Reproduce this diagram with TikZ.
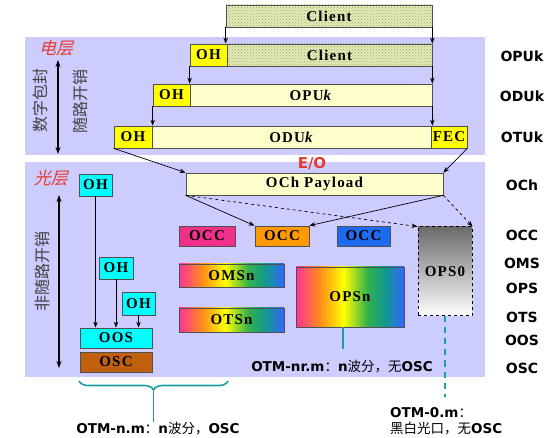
\documentclass[tikz,border=0pt]{standalone}
\usepackage{fontspec}
\setmainfont{Liberation Serif}
\setsansfont{DejaVu Sans}
\newfontfamily\boxfont[LetterSpace=8]{Liberation Serif}
\newfontfamily\cjk{Noto Sans CJK SC}
\newfontfamily\cjksl[FakeSlant=0.25]{Noto Sans CJK SC}
\newcommand{\zhtext}[1]{{\cjk\mdseries #1}}
\usepackage{tikz}
\usetikzlibrary{arrows.meta,patterns,decorations.pathreplacing,positioning}
\definecolor{panel}{HTML}{CCCCFF}
\definecolor{boxline}{HTML}{505050}
\definecolor{ohyellow}{HTML}{FFFF00}
\definecolor{payload}{HTML}{FFFFCC}
\definecolor{clientbg}{HTML}{E4EBB8}
\definecolor{clientdot}{HTML}{9AA860}
\definecolor{ohcyan}{HTML}{00FFFF}
\definecolor{oscbrown}{HTML}{C0600F}
\definecolor{occpink}{HTML}{F0308A}
\definecolor{occorange}{HTML}{FF9900}
\definecolor{occblue}{HTML}{1E6BF0}
\definecolor{layred}{HTML}{E83A2E}
\definecolor{braceteal}{HTML}{1A9E9E}
\definecolor{rbpink}{HTML}{FF3399}
\definecolor{rborange}{HTML}{FF8C1A}
\definecolor{rbyellow}{HTML}{FFFF00}
\definecolor{rbgreen}{HTML}{33B24D}
\definecolor{rbteal}{HTML}{119A8C}
\definecolor{rbblue}{HTML}{3366FF}
\pgfdeclarehorizontalshading{rainbow}{100bp}{color(0bp)=(rbpink); color(25bp)=(rbpink);
  color(36bp)=(rborange); color(47bp)=(rbyellow); color(58bp)=(rbgreen);
  color(66bp)=(rbteal); color(75bp)=(rbblue); color(100bp)=(rbblue)}
\tikzset{
  box/.style={draw=boxline, line width=0.7pt, inner sep=0pt,
    font=\boxfont\bfseries\fontsize{15}{15}\selectfont},
  ohy/.style={box, fill=ohyellow},
  pay/.style={box, fill=payload},
  cli/.style={box, preaction={fill=clientbg}, pattern=crosshatch dots, pattern color=clientdot},
  ohc/.style={box, fill=ohcyan},
  rain/.style={box, shading=rainbow},
  arr/.style={draw=black, line width=0.7pt, -{Stealth[length=6pt,width=4.5pt]}},
  span/.style={draw=black, line width=1.8pt, {Stealth[length=7pt,width=5pt]}-{Stealth[length=7pt,width=5pt]}},
  lay/.style={font=\sffamily\bfseries\fontsize{14}{14}\selectfont},
  note/.style={font=\sffamily\bfseries\fontsize{13.5}{15}\selectfont, inner sep=0pt},
  side/.style={text=black!75, font=\cjk\fontsize{16}{16}\selectfont, rotate=90},
  red/.style={text=layred, font=\cjksl\fontsize{17}{17}\selectfont},
  tealline/.style={draw=braceteal, line width=2pt},
}
\begin{document}
\begin{tikzpicture}[x=1pt,y=-1pt]
  \useasboundingbox (0,0) rectangle (557,438);
  % layer panels
  \fill[panel] (25,37) rectangle (485,155);
  \fill[panel] (25,162) rectangle (485,377);

  % electrical layer
  \node[cli, minimum width=206pt, minimum height=22pt] (cl0) at (329,16) {Client};
  \node[ohy, minimum width=37pt, minimum height=22pt] (oh1) at (208.5,55) {OH};
  \node[cli, minimum width=205pt, minimum height=22pt] (cl1) at (329.5,55) {Client};
  \node[ohy, minimum width=37pt, minimum height=22pt] (oh2) at (171.5,95) {OH};
  \node[pay, minimum width=242pt, minimum height=22pt] (opu) at (311,95) {OPU\textit{k}};
  \node[ohy, minimum width=38pt, minimum height=22pt] (oh3) at (133,137) {OH};
  \node[pay, minimum width=279pt, minimum height=22pt] (odu) at (291.5,137) {ODU\textit{k}};
  \node[ohy, minimum width=36pt, minimum height=22pt] (fec) at (449,137) {FEC};

  \draw[arr] (cl0.south west) -- (cl0.south west |- cl1.north);
  \draw[arr] (cl0.south east) -- (cl0.south east |- cl1.north);
  \draw[arr] (oh1.south west) -- (oh1.south west |- opu.north);
  \draw[arr] (cl1.south east) -- (cl1.south east |- opu.north);
  \draw[arr] (oh2.south west) -- (oh2.south west |- odu.north);
  \draw[arr] (opu.south east) -- (opu.south east |- odu.north);

  \node[red] (elec) at (56,48) {电层};
  \node[side] (digi) at (40,101) {数字包封};
  \node[side] (assoc) at (80,102) {随路开销};
  \coordinate (e1) at (58,60);
  \coordinate (e2) at (58,154);
  \draw[span] (e1) -- (e2);

  % optical layer
  \node[pay, minimum width=257pt, minimum height=22pt] (och) at (314.5,184) {OCh Payload};
  \node[text=layred, font=\sffamily\bfseries\fontsize{15}{15}\selectfont] (eo) at (312,164) {E/O};
  \draw[arr] (oh3.south west) -- (och.north west);
  \draw[arr] (fec.south east) -- (och.north east);

  \node[box, fill=occpink, minimum width=56pt, minimum height=20pt] (occ1) at (207,236) {OCC};
  \node[box, fill=occorange, minimum width=54pt, minimum height=20pt] (occ2) at (282,236) {OCC};
  \node[box, fill=occblue, minimum width=53pt, minimum height=20pt] (occ3) at (363.5,236) {OCC};
  \node[box, dashed, draw=black, line width=1pt, top color=black!58, bottom color=white,
        minimum width=54pt, minimum height=89pt] (ops0) at (445,271.5) {OPS0};
  \node[rain, minimum width=105pt, minimum height=23pt] (oms) at (231.5,275.5) {OMSn};
  \node[rain, minimum width=105pt, minimum height=24pt] (ots) at (231.5,320) {OTSn};
  \node[rain, minimum width=108pt, minimum height=60pt] (opsn) at (350,297) {OPSn};

  \draw[arr] (och.south west) -- (occ2.north west);
  \draw[arr] (och.south east) -- (occ2.north east);
  \draw[arr, dashed] (och.south west) -- (ops0.north west);
  \draw[arr, dashed] (och.south east) -- (ops0.north east);

  \node[ohc, minimum width=33pt, minimum height=22pt] (ohA) at (95.5,185) {OH};
  \node[ohc, minimum width=34pt, minimum height=22pt] (ohB) at (116,268) {OH};
  \node[ohc, minimum width=33pt, minimum height=23pt] (ohC) at (138.5,303.5) {OH};
  \node[ohc, minimum width=72pt, minimum height=20pt] (oos) at (116,338) {OOS};
  \node[box, fill=oscbrown, minimum width=72pt, minimum height=20pt] (osc) at (116,362) {OSC};
  \draw[arr] (ohA.south) -- (ohA.south |- oos.north);
  \draw[arr] (ohB.south) -- (ohB.south |- oos.north);
  \draw[arr] (ohC.south) -- (ohC.south |- oos.north);

  \node[red] (opt) at (51,178) {光层};
  \node[side] (nonassoc) at (42,272) {非随路开销};
  \coordinate (o1) at (59,195);
  \coordinate (o2) at (59,368);
  \draw[span] (o1) -- (o2);

  % right column
  \foreach \name/\y in {OPUk/56,ODUk/96,OTUk/137,OCh/185,OCC/235,OMS/263,OPS/288,OTS/317,OOS/340,OSC/368}{
    \node[lay] (r\name) at (522,\y) {\name};
  }

  % OTM types
  \coordinate (nrend) at (343,349);
  \draw[tealline] (nrend |- opsn.south) -- (nrend);
  \node[note] (nrlab) at (342,367) {OTM-nr.m\zhtext{：}n\zhtext{波分，无}OSC};

  \coordinate (zeroend) at (445,397);
  \draw[tealline, dash pattern=on 6pt off 5pt] (ops0.south) -- (zeroend);
  \node[note, anchor=west] (zerolab) at (390,413) {OTM-0.m\zhtext{：}};
  \node[note, anchor=west] (zerolab2) at (390,429) {\zhtext{黑白光口，无}OSC};

  \coordinate (brR) at (228,381);
  \coordinate (brL) at (79,381);
  \coordinate (brtip) at (153.5,390);
  \coordinate (brend) at (153.5,422);
  \draw[tealline, line width=1.6pt, decorate, decoration={brace, amplitude=9pt}] (brR) -- (brL);
  \draw[tealline, line width=1.6pt] (brtip) -- (brend);
  \node[note] (nmlab) at (158,429) {OTM-n.m\zhtext{：}n\zhtext{波分，}OSC};
\end{tikzpicture}
\end{document}
